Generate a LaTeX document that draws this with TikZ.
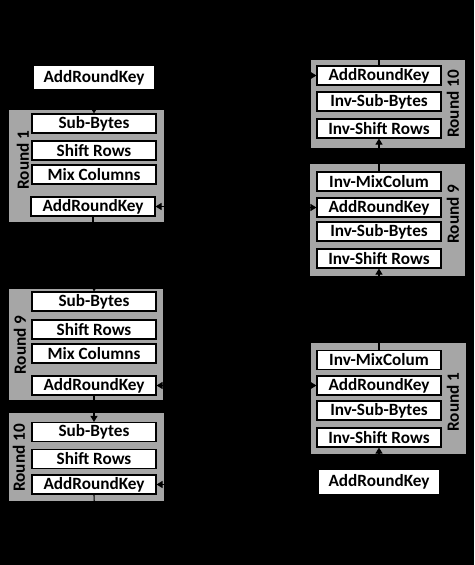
\documentclass[tikz,border=0pt]{standalone}
\usepackage{fontspec}
\setmainfont{Carlito}
\usetikzlibrary{arrows.meta}
\definecolor{panelgray}{HTML}{A6A6A6}
\begin{document}
\begin{tikzpicture}[x=1pt,y=-1pt,
  every node/.style={font=\fontsize{17.2}{19}\selectfont\bfseries},
  opbox/.style={draw=black,line width=1.1pt,fill=white,minimum width=124pt,minimum height=19pt,inner sep=0pt},
  keybox/.style={draw=black,line width=1.1pt,fill=white,minimum width=122pt,minimum height=25pt,inner sep=0pt},
  panel/.style={draw=black,line width=1pt,fill=panelgray},
  roundlbl/.style={inner sep=0pt},
  flow/.style={draw=black,line width=1.1pt,-{Triangle[length=6pt,width=7pt]}},
  plain/.style={draw=black,line width=1.1pt}
]
\useasboundingbox[fill=black] (0,0) rectangle (474,565);

% ---------- left column: encryption ----------
\path[panel] (8,109) rectangle (164,222);
\path[panel] (8,288) rectangle (163,400);
\path[panel] (8,412) rectangle (164,501);

\node[keybox] (k0) at (94,77.5) {AddRoundKey};

\node[opbox] (a1) at (94,123.5) {Sub-Bytes};
\node[opbox] (b1) at (94,150.5) {Shift Rows};
\node[opbox] (c1) at (94,174.5) {Mix Columns};
\node[opbox] (d1) at (93,206.5) {AddRoundKey};
\node[roundlbl,rotate=90] (r1) at (23,160) {Round 1};

\node[opbox] (a9) at (94,301.5) {Sub-Bytes};
\node[opbox] (b9) at (94,329.5) {Shift Rows};
\node[opbox] (c9) at (94,353.5) {Mix Columns};
\node[opbox] (d9) at (94,385.5) {AddRoundKey};
\node[roundlbl,rotate=90] (r9) at (20,345) {Round 9};

\node[opbox] (a10) at (94,432) {Sub-Bytes};
\node[opbox] (b10) at (94,459) {Shift Rows};
\node[opbox] (d10) at (94,484.5) {AddRoundKey};
\node[roundlbl,rotate=90] (r10) at (19,458) {Round 10};

\coordinate (l1out) at (93,240);
\coordinate (l9in) at (95,270);
\coordinate (l10out) at (95,525);
\coordinate (k1) at (180,206.5);
\coordinate (k9) at (180,385.5);
\coordinate (k10) at (180,484.5);

\draw[flow] (k0.south -| a1.north) -- (a1.north);
\draw[plain] (d1.south) -- (l1out);
\draw[flow] (l9in) -- (a9.north);
\draw[flow] (d9.south) -- (a10.north);
\draw[plain] (d10.south) -- (l10out);
\draw[flow] (k1) -- (d1.east);
\draw[flow] (k9) -- (d9.east);
\draw[flow] (k10) -- (d10.east);

% ---------- right column: decryption ----------
\path[panel] (310,59) rectangle (465,148);
\path[panel] (309,163) rectangle (465,276);
\path[panel] (310,342) rectangle (466,454);

\node[opbox] (e10) at (379,75.5) {AddRoundKey};
\node[opbox] (f10) at (379,101.5) {Inv-Sub-Bytes};
\node[opbox] (g10) at (379,128.5) {Inv-Shift Rows};
\node[roundlbl,rotate=90] (s10) at (453,104) {Round 10};

\node[opbox] (h9) at (379,181.5) {Inv-MixColum};
\node[opbox] (e9) at (379,207.5) {AddRoundKey};
\node[opbox] (f9) at (379,231.5) {Inv-Sub-Bytes};
\node[opbox] (g9) at (379,258.5) {Inv-Shift Rows};
\node[roundlbl,rotate=90] (s9) at (453,214) {Round 9};

\node[opbox] (h1) at (379,360) {Inv-MixColum};
\node[opbox] (e1) at (379,385.5) {AddRoundKey};
\node[opbox] (f1) at (379,410.5) {Inv-Sub-Bytes};
\node[opbox] (g1) at (379,437.5) {Inv-Shift Rows};
\node[roundlbl,rotate=90] (s1) at (453,402) {Round 1};

\node[keybox] (q0) at (379,482) {AddRoundKey};

\coordinate (r10out) at (379,40);
\coordinate (r9in) at (379,295);
\coordinate (r1out) at (379,322);
\coordinate (m10) at (294,75.5);
\coordinate (m9) at (294,207.5);
\coordinate (m1) at (294,385.5);

\draw[flow] (q0.north) -- (g1.south);
\draw[plain] (h1.north) -- (r1out);
\draw[flow] (r9in) -- (g9.south);
\draw[flow] (h9.north) -- (g10.south);
\draw[plain] (e10.north) -- (r10out);
\draw[flow] (m10) -- (e10.west);
\draw[flow] (m9) -- (e9.west);
\draw[flow] (m1) -- (e1.west);
\end{tikzpicture}
\end{document}
